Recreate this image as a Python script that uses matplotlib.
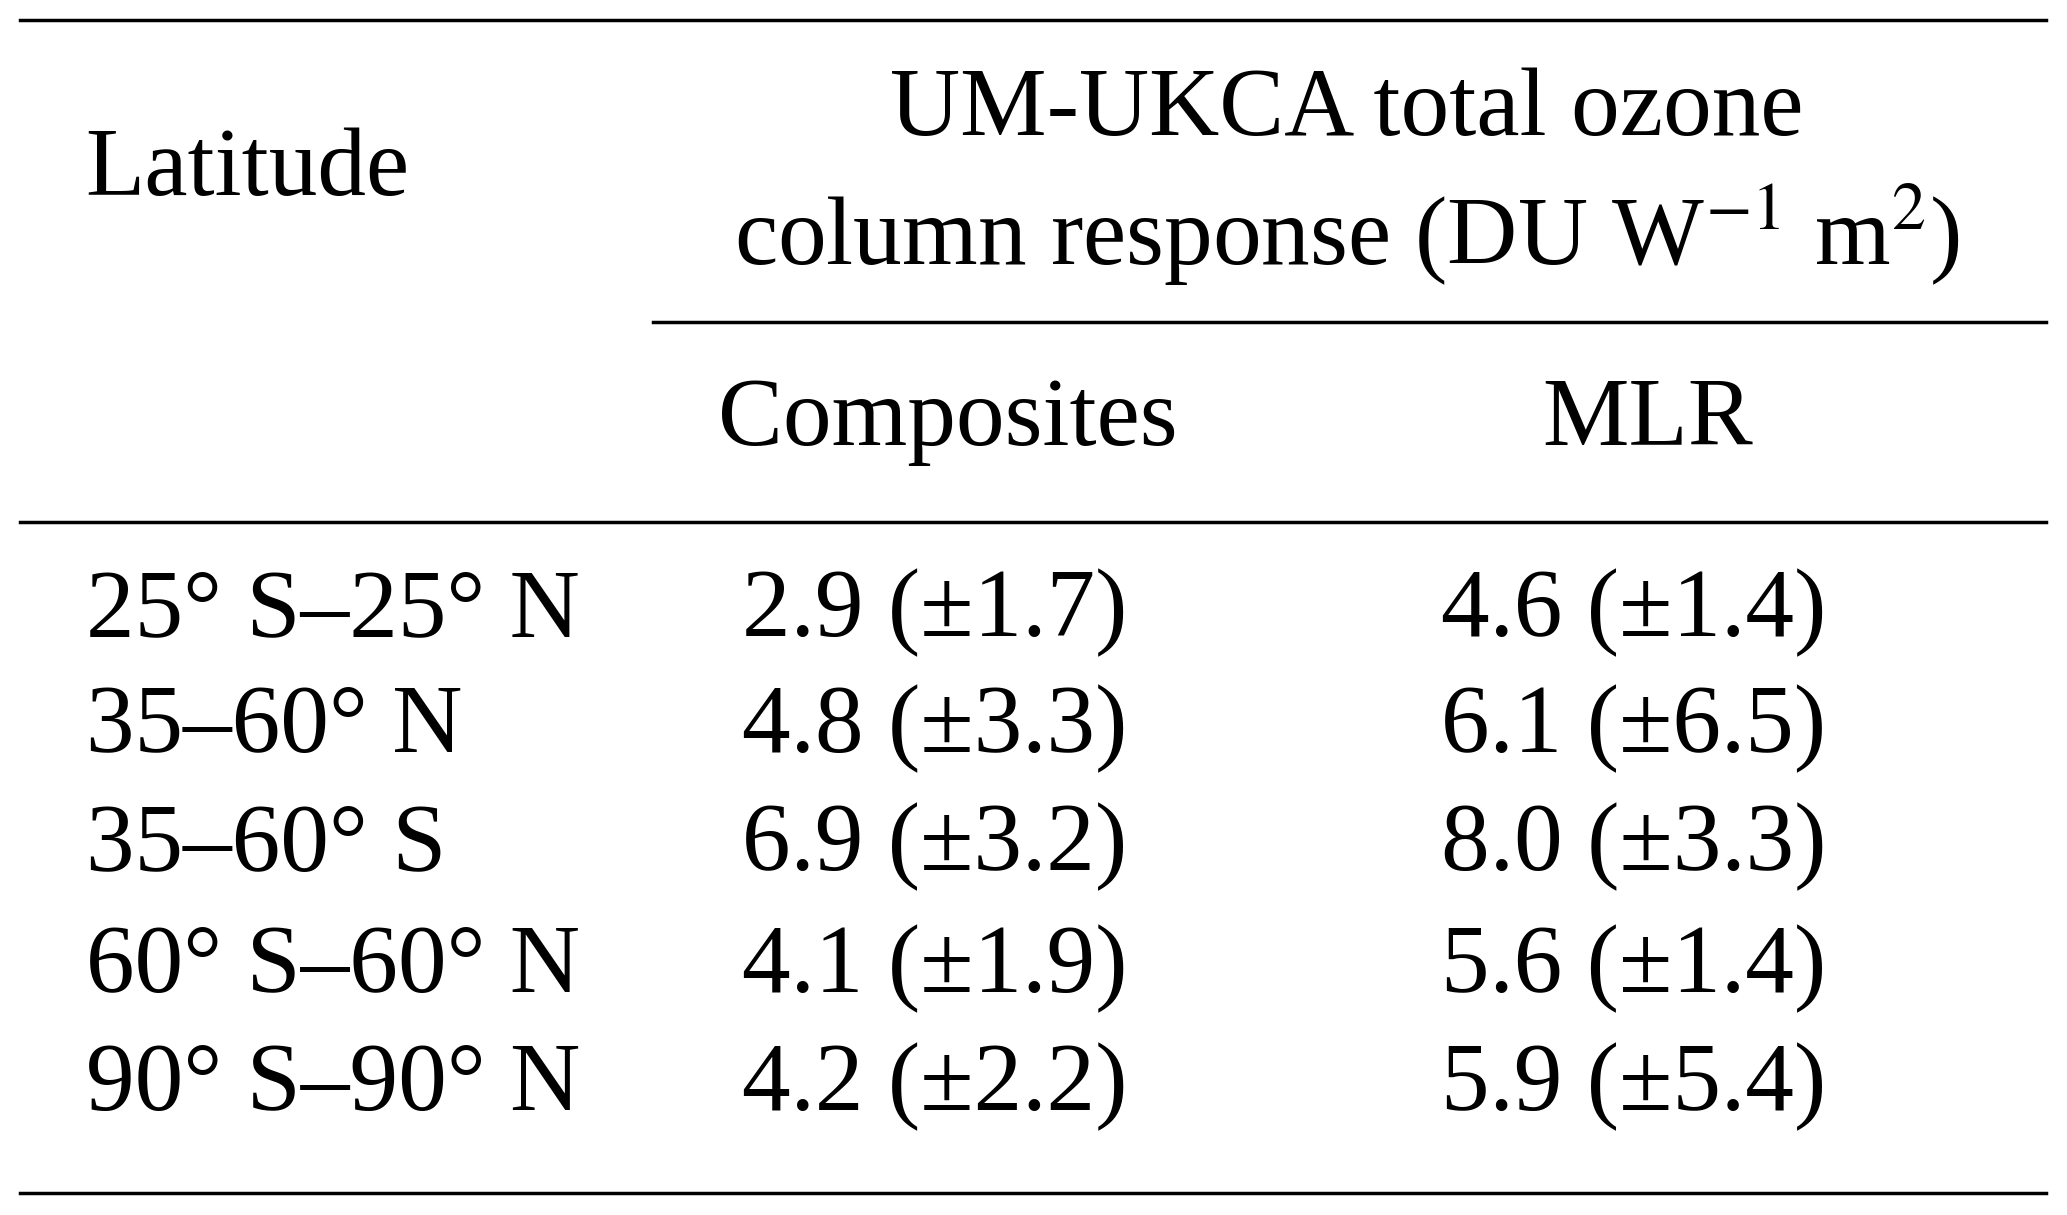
import matplotlib
matplotlib.use("Agg")
import matplotlib.pyplot as plt
from matplotlib.lines import Line2D

plt.rcParams['font.family'] = ['Liberation Serif', 'DejaVu Serif']
plt.rcParams['mathtext.fontset'] = 'stix'

latitudes = ["25° S–25° N", "35–60° N", "35–60° S", "60° S–60° N", "90° S–90° N"]
comp_val = [2.9, 4.8, 6.9, 4.1, 4.2]
comp_err = [1.7, 3.3, 3.2, 1.9, 2.2]
mlr_val = [4.6, 6.1, 8.0, 5.6, 5.9]
mlr_err = [1.4, 6.5, 3.3, 1.4, 5.4]

W, H = 1568.0, 922.0
fig = plt.figure(figsize=(20.67, 12.15), dpi=100)
fs = 70

def fx(x): return x / W
def fy(y): return 1 - y / H

def hline(y, x0, x1):
    fig.add_artist(Line2D([fx(x0), fx(x1)], [fy(y), fy(y)], color='black', lw=2.5,
                          transform=fig.transFigure))

hline(15, 15, 1552)
hline(244, 495, 1552)
hline(396, 15, 1552)
hline(905, 15, 1552)

fig.text(fx(65), fy(130), "Latitude", fontsize=fs, va='center', ha='left')
fig.text(fx(1022), fy(85), "UM-UKCA total ozone", fontsize=fs, va='center', ha='center')
fig.text(fx(1022), fy(178), r"column response (DU W$^{-1}$ m$^{2}$)", fontsize=fs,
         va='center', ha='center')
fig.text(fx(545), fy(320), "Composites", fontsize=fs, va='center', ha='left')
fig.text(fx(1250), fy(320), "MLR", fontsize=fs, va='center', ha='center')

rows_y = [465, 553, 643, 735, 825]
for y, lat, cv, ce, mv, me in zip(rows_y, latitudes, comp_val, comp_err, mlr_val, mlr_err):
    fig.text(fx(65), fy(y), lat, fontsize=fs, va='center', ha='left')
    fig.text(fx(563), fy(y), f"{cv:.1f} (±{ce:.1f})", fontsize=fs, va='center', ha='left')
    fig.text(fx(1093), fy(y), f"{mv:.1f} (±{me:.1f})", fontsize=fs, va='center', ha='left')

fig.savefig("out.png", dpi=100, facecolor='white')
